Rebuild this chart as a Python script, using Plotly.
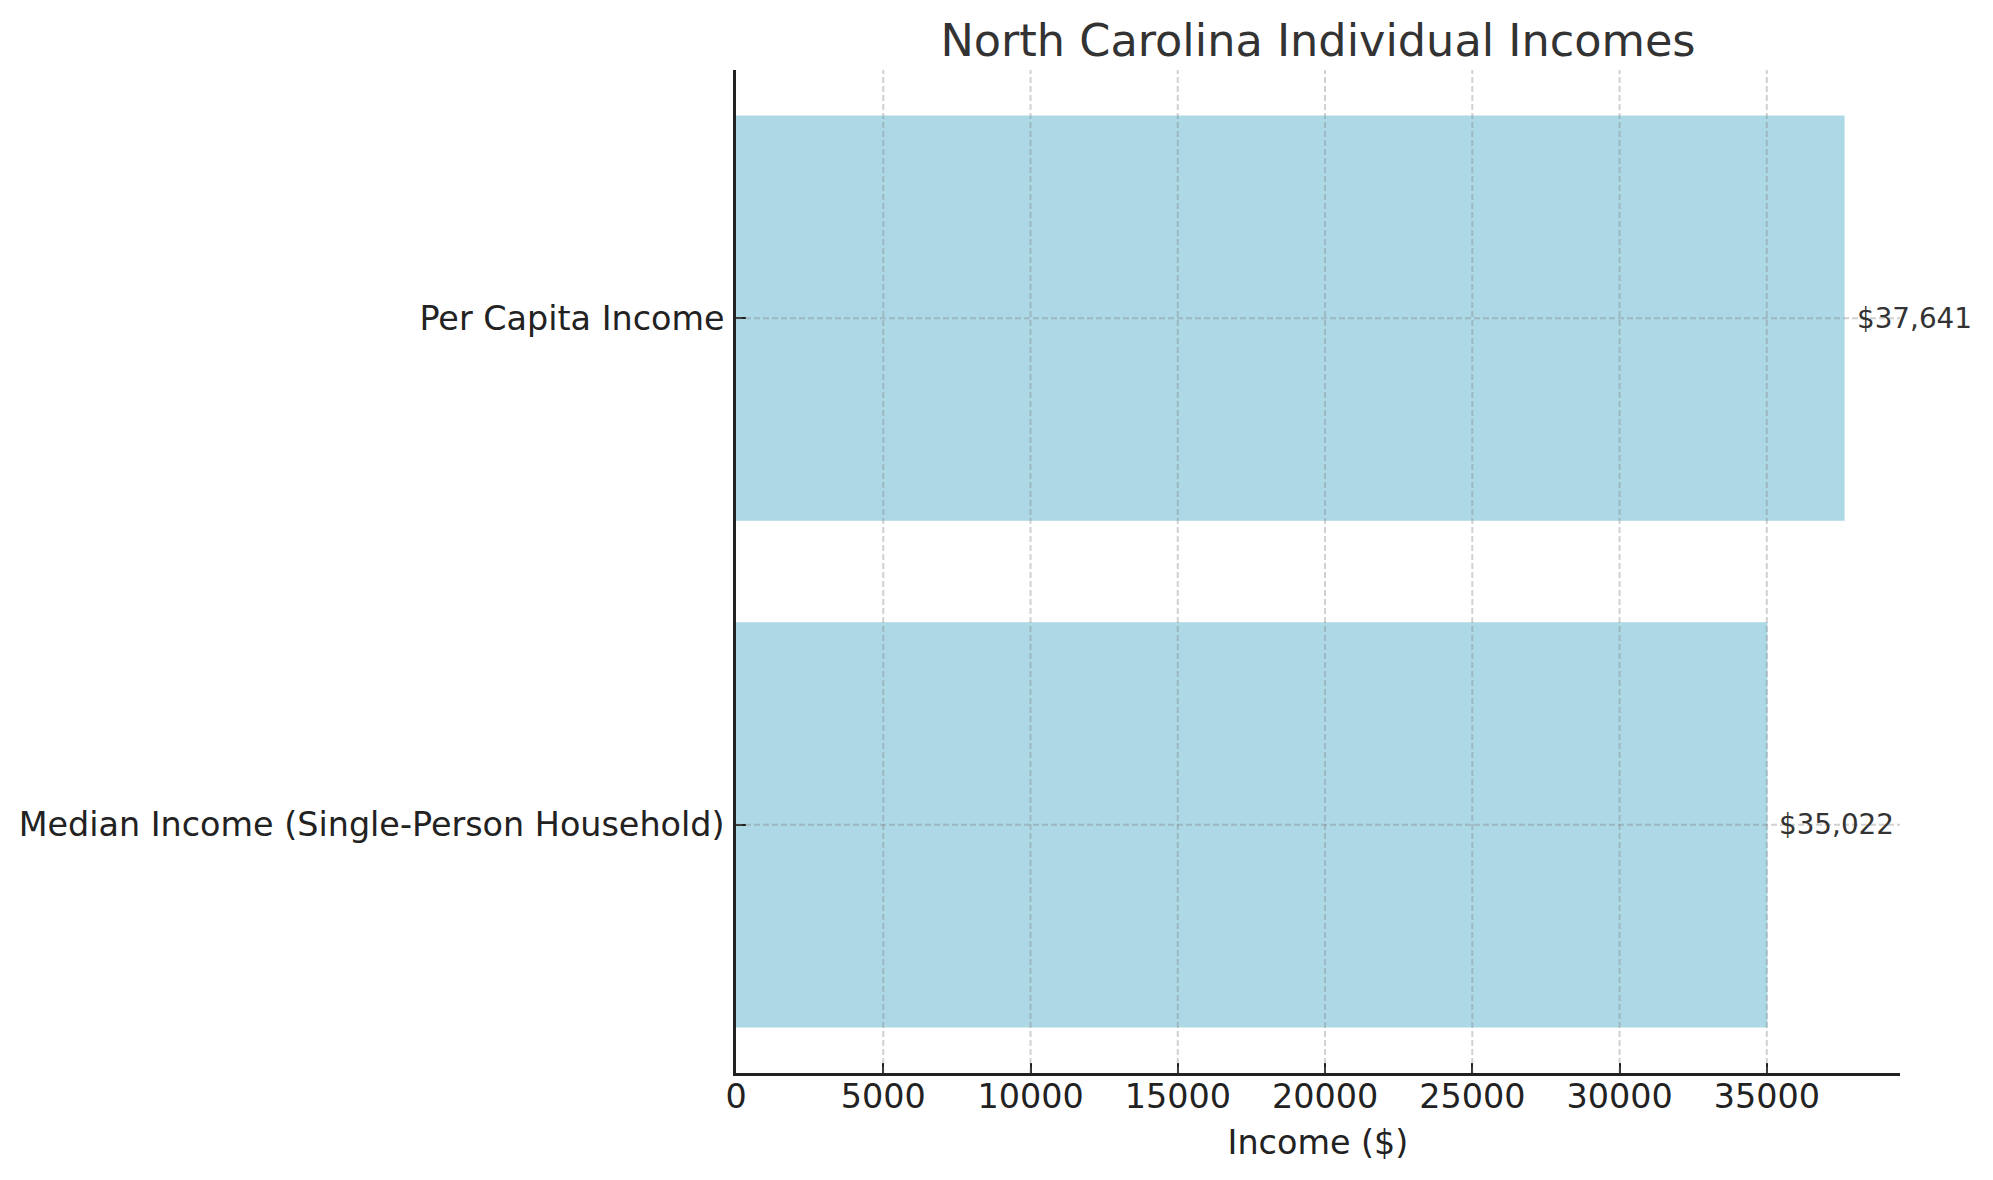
import plotly.graph_objects as go

# data
categories = ["Median Income (Single-Person Household)", "Per Capita Income"]
incomes = [35022, 37641]
x_ticks = [0, 5000, 10000, 15000, 20000, 25000, 30000, 35000]

FONT = "DejaVu Sans"
BAR_COLOR = "#ADD8E6"
GRID_COLOR = "rgba(128,128,128,0.36)"

# page body adds an 8px margin, so the figure is a bit smaller than the window
W, H = 1985, 1172

fig = go.Figure()
fig.add_trace(go.Bar(
    x=incomes,
    y=categories,
    orientation="h",
    width=0.8,
    marker={"color": BAR_COLOR, "line": {"width": 0}},
    hoverinfo="x+y",
))

# value labels just past the bar ends
for cat, val in zip(categories, incomes):
    fig.add_annotation(
        x=val, y=cat, xref="x", yref="y",
        text=f"${val:,}",
        showarrow=False,
        xanchor="left", yanchor="middle",
        xshift=10,
        font={"family": FONT, "size": 27.8, "color": "#333333"},
    )

# dashed grid drawn over the bars (matplotlib style)
grid_line = {"color": GRID_COLOR, "width": 2, "dash": "6px,3px"}
for t in x_ticks[1:]:
    fig.add_shape(type="line", xref="x", yref="paper", x0=t, x1=t, y0=0, y1=1,
                  line=grid_line, layer="above")
for cat in categories:
    fig.add_shape(type="line", xref="paper", yref="y", x0=0, x1=1, y0=cat, y1=cat,
                  line=grid_line, layer="above")

x_max = max(incomes) * 1.05

fig.update_layout(
    width=W,
    height=H,
    margin={"l": 728, "r": 93, "t": 62, "b": 107},
    paper_bgcolor="white",
    plot_bgcolor="white",
    showlegend=False,
    font={"family": FONT, "size": 33.4, "color": "#222222"},
    title={
        "text": "North Carolina Individual Incomes",
        "x": 0.5, "xref": "paper",
        "y": 1 - 32 / H, "yref": "container",
        "xanchor": "center", "yanchor": "middle",
        "font": {"family": FONT, "size": 44.6, "color": "#333333"},
    },
    xaxis={
        "range": [0, x_max],
        "tickvals": x_ticks,
        "ticktext": [str(t) for t in x_ticks],
        "showgrid": False,
        "zeroline": False,
        "showline": True,
        "linecolor": "#222222",
        "linewidth": 2.6,
        "ticks": "inside",
        "ticklen": 10,
        "tickwidth": 2,
        "tickcolor": "#222222",
        "ticklabelstandoff": -8,
        "tickfont": {"size": 33.4, "color": "#222222"},
        "title": {"text": "Income ($)", "standoff": 16,
                  "font": {"size": 33.4, "color": "#222222"}},
    },
    yaxis={
        "type": "category",
        "categoryorder": "array",
        "categoryarray": categories,
        "range": [-0.49, 1.49],
        "showgrid": False,
        "zeroline": False,
        "showline": True,
        "linecolor": "#222222",
        "linewidth": 2.6,
        "ticks": "inside",
        "ticklen": 10,
        "tickwidth": 2,
        "tickcolor": "#222222",
        "ticklabelstandoff": 2,
        "tickfont": {"size": 33.4, "color": "#222222"},
    },
)

fig.write_html("out.html")
